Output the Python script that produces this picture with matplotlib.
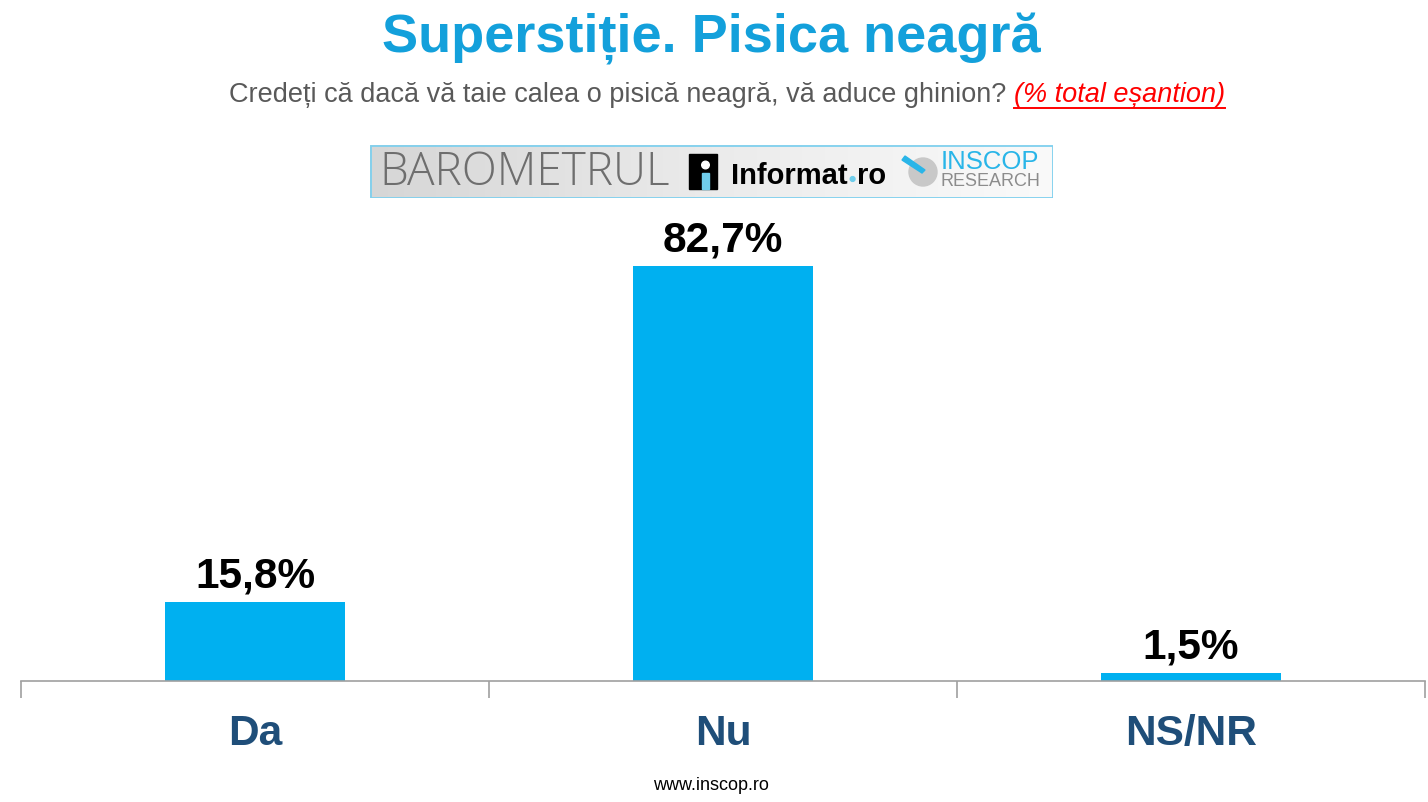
import matplotlib
matplotlib.use("Agg")
import matplotlib.pyplot as plt
import numpy as np
from matplotlib.patches import Rectangle, Circle, Polygon
from matplotlib.colors import LinearSegmentedColormap

categories = ["Da", "Nu", "NS/NR"]
values = [15.8, 82.7, 1.5]
value_labels = ["15,8%", "82,7%", "1,5%"]

title = "Superstiție. Pisica neagră"
subtitle = "Credeți că dacă vă taie calea o pisică neagră, vă aduce ghinion? "
subtitle_note = "(% total eșantion)"
footer = "www.inscop.ro"

plt.rcParams['font.family'] = ['Liberation Sans', 'DejaVu Sans']

W, H = 1428, 802
fig = plt.figure(figsize=(W / 100, H / 100), dpi=100)
fig.patch.set_facecolor("white")

def fx(px):
    return px / W

def fy(py):
    return 1 - py / H

# main axes
ax = fig.add_axes([fx(21), fy(681), fx(1425) - fx(21), fy(215) - fy(681)])
x = np.arange(len(categories))
ax.bar(x, values, width=0.385, color="#00B0F0", zorder=2)
ax.set_xlim(-0.5, len(categories) - 0.5)
ax.set_ylim(0, 92.8)
for xi, v, lab in zip(x, values, value_labels):
    ax.annotate(lab, (xi, v), xytext=(0, 4), textcoords="offset points",
                ha="center", va="bottom", fontsize=30.5, fontweight="bold", color="black")
ax.set_yticks([])
for s in ["top", "right", "left"]:
    ax.spines[s].set_visible(False)
ax.spines["bottom"].set_color("#A0A0A0")
ax.spines["bottom"].set_linewidth(1.2)
ax.set_xticks(np.arange(-0.5, len(categories), 1.0))
ax.set_xticklabels([])
ax.tick_params(axis="x", length=12, color="#A0A0A0", width=1.2)
ax.set_xticks(x, minor=True)
ax.set_xticklabels(categories, minor=True, fontsize=30.5, fontweight="bold", color="#1F4E79")
ax.tick_params(axis="x", which="minor", length=0, pad=24)
ax.set_facecolor("none")

# titles
fig.text(fx(711), fy(39), title, ha="center", va="center", fontsize=39,
         fontweight="bold", color="#13A0DB")
t1 = fig.text(fx(229), fy(95), subtitle, ha="left", va="center", fontsize=19.5, color="#595959")
fig.canvas.draw()
bb = t1.get_window_extent()
t2 = fig.text(bb.x1 / W, fy(95), subtitle_note, ha="left", va="center", fontsize=19.5,
              color="#FF0000", style="italic")
fig.canvas.draw()
bb2 = t2.get_window_extent()
fig.add_artist(plt.Line2D([bb2.x0 / W, bb2.x1 / W], [fy(107.5), fy(107.5)], color="#FF0000", lw=1.4))

fig.text(fx(711), fy(785), footer, ha="center", va="center", fontsize=13, color="black")

# banner (pixel coordinates)
bx0, bx1, by0, by1 = 370, 1053, 145, 198
bax = fig.add_axes([fx(bx0), fy(by1), fx(bx1) - fx(bx0), fy(by0) - fy(by1)])
bax.set_xlim(bx0, bx1)
bax.set_ylim(by1, by0)
bax.axis("off")
grad = np.linspace(0, 1, 256).reshape(1, -1)
cmap = LinearSegmentedColormap.from_list("g", ["#D6D6D6", "#EBEBEB", "#FAFAFA"])
bax.imshow(grad, extent=[bx0, bx1, by1, by0], aspect="auto", cmap=cmap, zorder=0)
bax.add_patch(Rectangle((bx0 + 0.5, by0 + 0.5), bx1 - bx0 - 1, by1 - by0 - 1, fill=False,
                        edgecolor="#7FD0EE", lw=1.3, zorder=3))
bax.text(379, 173, "BAROMETRUL", ha="left", va="center", fontsize=33, color="#6E6E6E",
         family=["Open Sans", "DejaVu Sans"], fontweight="light")
# informat icon
bax.add_patch(Rectangle((689, 154), 28, 35, color="black", zorder=2))
bax.add_patch(Rectangle((702, 173), 7, 16, color="#6FCDEB", zorder=3))
bax.add_patch(Circle((705.5, 165), 3.8, color="white", zorder=3))
ti = bax.text(731, 176, "Informat", ha="left", va="center", fontsize=21, fontweight="bold", color="black")
fig.canvas.draw()
ie = ti.get_window_extent()
inv = bax.transData.inverted()
xend = inv.transform((ie.x1, 0))[0]
bax.add_patch(Circle((xend + 5, 179), 2.4, color="#6FCDEB", zorder=3))
bax.text(xend + 9, 176, "ro", ha="left", va="center", fontsize=21, fontweight="bold", color="black")
# inscop logo
bax.add_patch(Circle((923, 172), 14, color="#C8C8C8", zorder=2))
bax.add_patch(Polygon([[902, 160], [905, 156], [925, 170], [922, 173]], color="#29B5E8", zorder=3))
bax.text(941, 162, "INSCOP", ha="left", va="center", fontsize=18.5, color="#29B5E8")
bax.text(941, 182, "RESEARCH", ha="left", va="center", fontsize=13, color="#8C8C8C")

fig.savefig("out.png", dpi=100, facecolor="white")
